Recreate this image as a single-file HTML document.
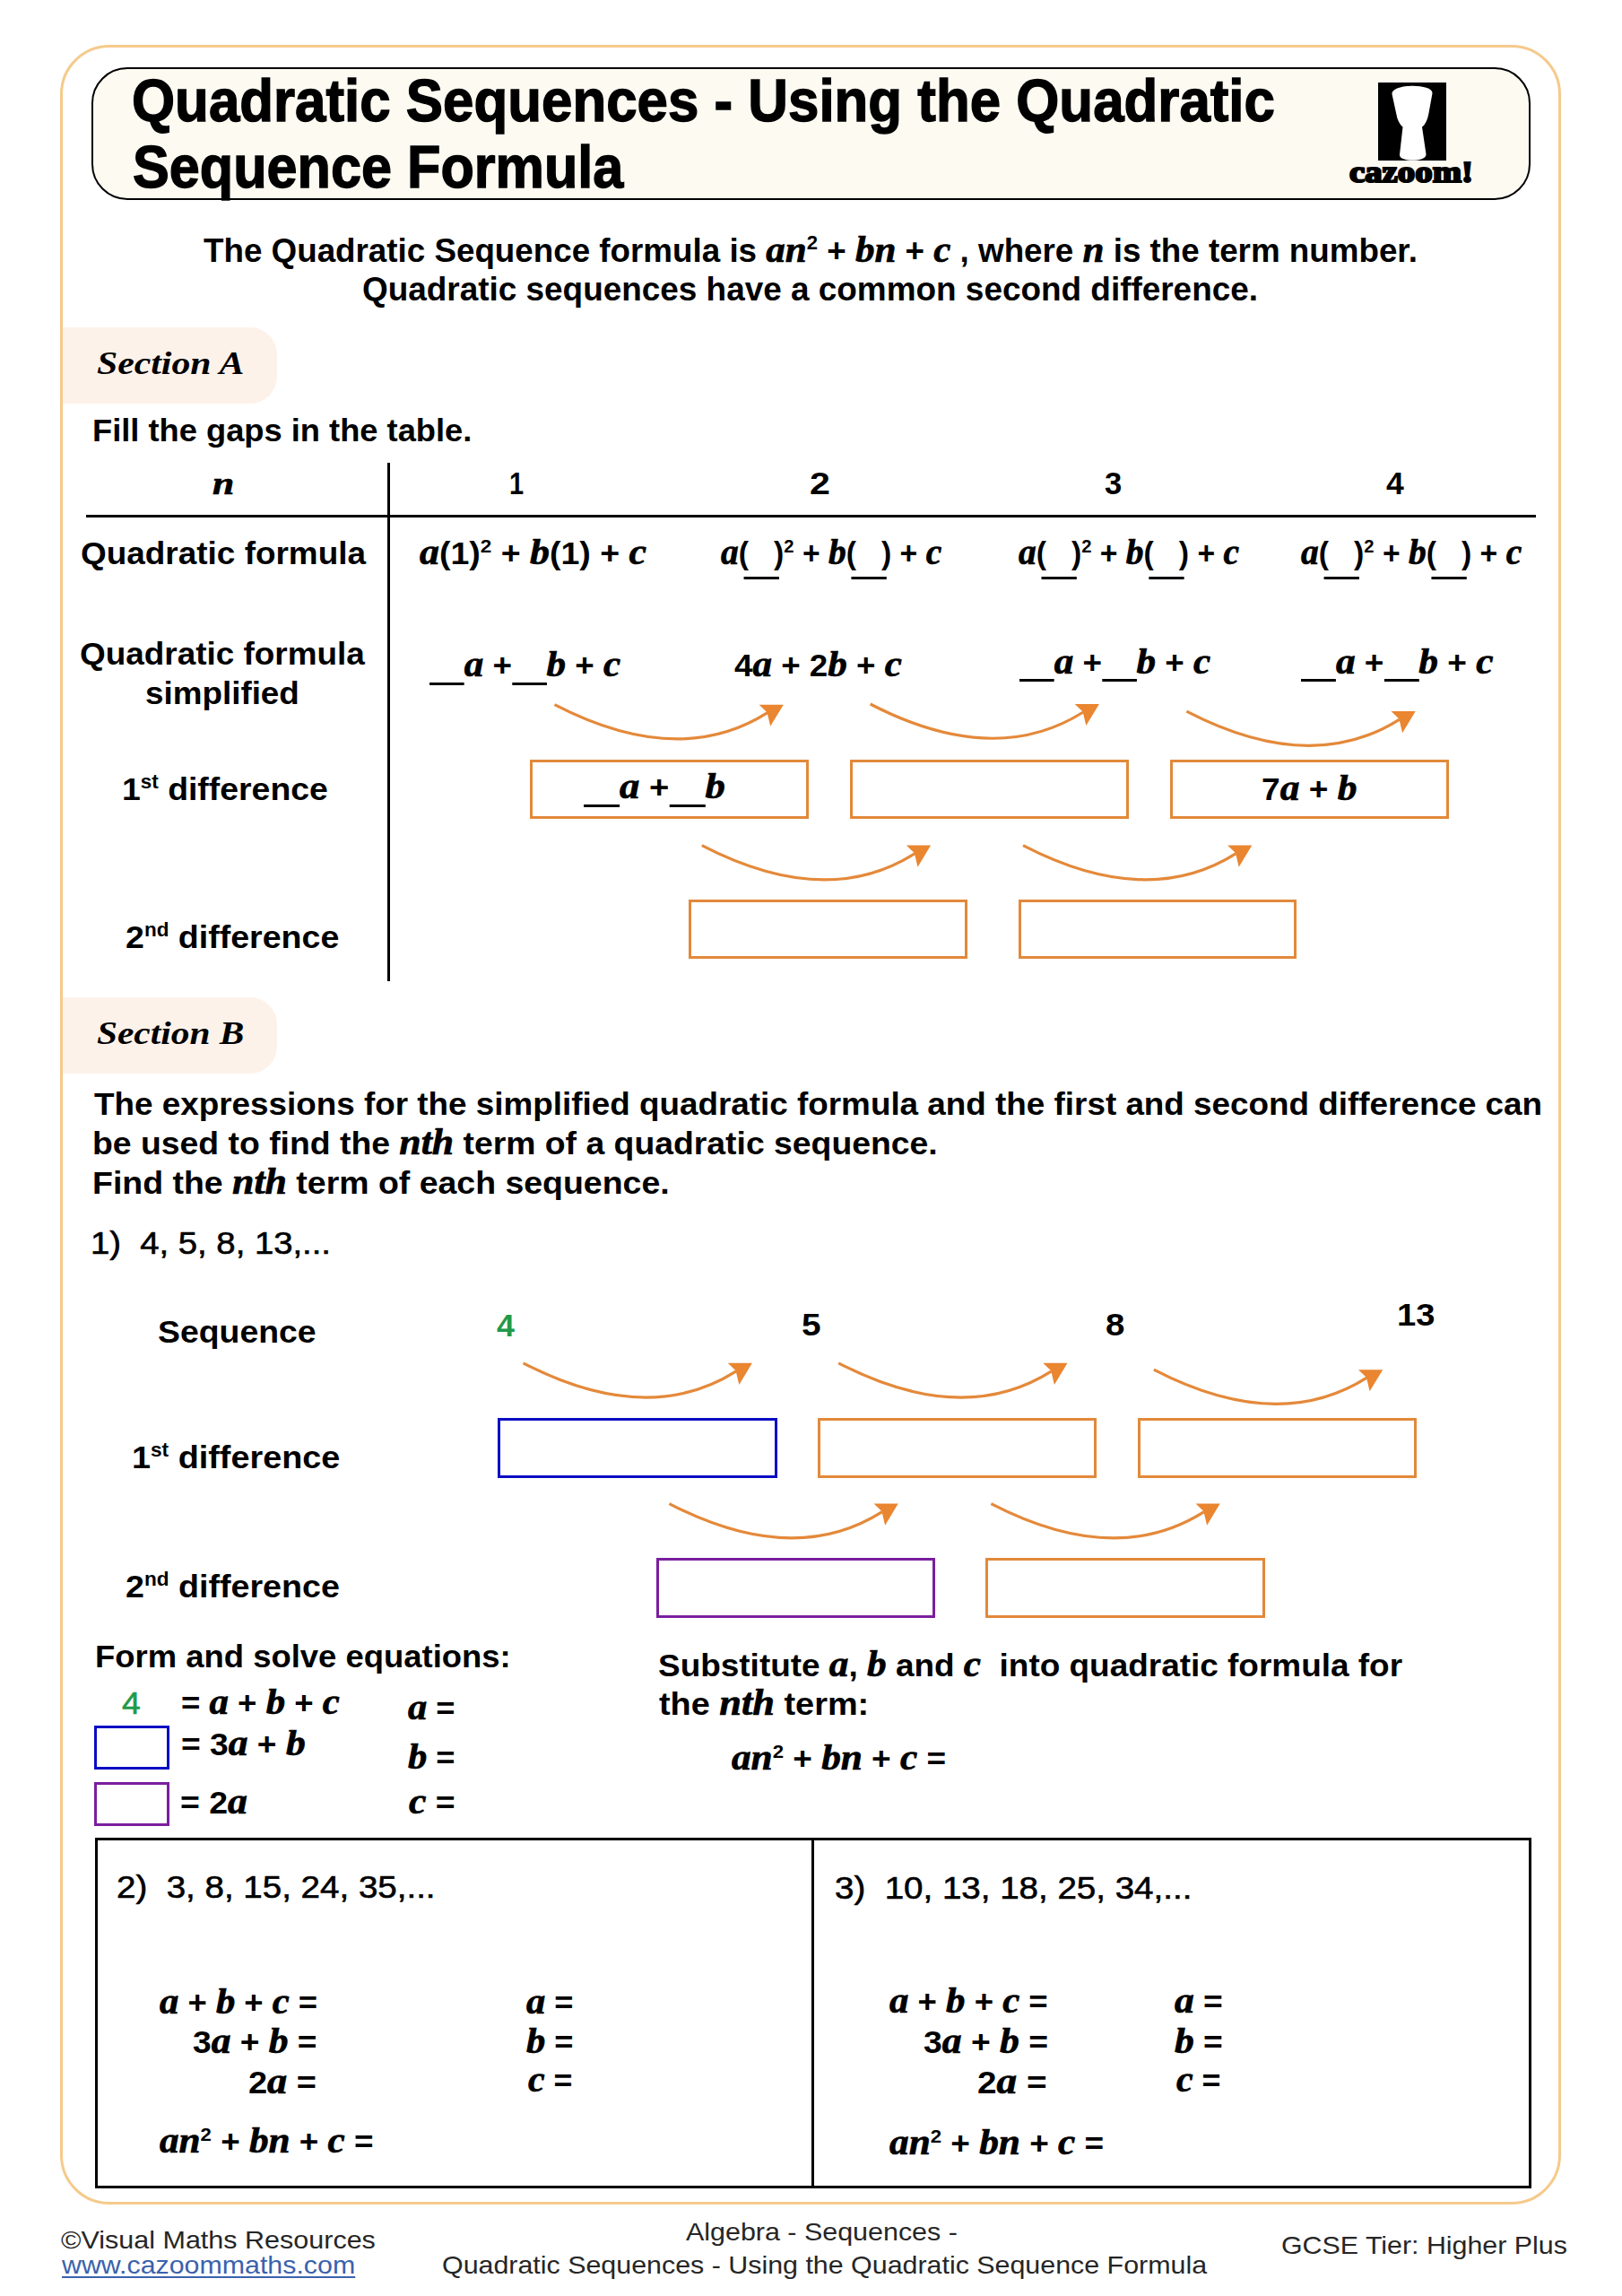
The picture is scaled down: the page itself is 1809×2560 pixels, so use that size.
<!DOCTYPE html>
<html><head><meta charset="utf-8"><title>Quadratic Sequences</title><style>
html,body{margin:0;padding:0;background:#fff;}
body{width:1809px;height:2560px;position:relative;overflow:hidden;}
.bx{position:absolute;box-sizing:border-box;}
.tx{position:absolute;white-space:nowrap;transform-origin:0 0;color:#000;}
.sb{font-family:"Liberation Sans",sans-serif;font-weight:bold;}
.ttl{-webkit-text-stroke:1.4px #000;}
.sr{font-family:"Liberation Sans",sans-serif;font-weight:normal;-webkit-text-stroke:0.6px currentColor;}
.ft{font-family:"Liberation Sans",sans-serif;font-weight:normal;color:#262626;}
.sec{font-family:"Liberation Serif",serif;font-weight:bold;font-style:italic;}
.logo{font-family:"Liberation Serif",serif;font-weight:bold;-webkit-text-stroke:2.2px #000;}
.m{font-family:"Liberation Serif",serif;font-weight:bold;font-style:italic;font-size:1.17em;line-height:0;-webkit-text-stroke:0.7px currentColor;}
.sup{font-size:0.6em;vertical-align:0.62em;line-height:0;font-weight:bold;}
.bl{position:relative;}
.bl::after{content:'';position:absolute;left:0.17em;right:0.15em;bottom:-10px;border-bottom:3px solid #000;}
.ub{display:inline-block;width:1.05em;height:0;border-bottom:3px solid #000;vertical-align:-0.29em;color:transparent;line-height:0;overflow:hidden}
.lnk{color:#3a62ad;text-decoration:underline;text-decoration-thickness:2px;text-underline-offset:3px;}
.arr{position:absolute;left:0;top:0;}
.arr path{fill:none;stroke:#e4893a;stroke-width:3.2;}
.arr polygon{fill:#ea8530;}
</style></head>
<body>
<div class="bx" style="left:67px;top:50px;width:1674px;height:2408px;border:3px solid #f5ca8c;border-radius:55px"></div><div class="bx" style="left:102px;top:75px;width:1605px;height:148px;border:2.5px solid #000;border-radius:40px;background:#fdfaf2"></div><div class="bx" style="left:70px;top:365px;width:239px;height:85px;background:#fdf2ea;border-radius:0 30px 30px 0"></div><div class="bx" style="left:70px;top:1112px;width:239px;height:85px;background:#fdf2ea;border-radius:0 30px 30px 0"></div><div class="bx" style="left:96px;top:573.5px;width:1617px;height:3px;background:#000"></div><div class="bx" style="left:432px;top:516px;width:3px;height:578px;background:#000"></div><div class="bx" style="left:591px;top:847px;width:311px;height:66px;border:3px solid #e2893a"></div><div class="bx" style="left:948px;top:847px;width:311px;height:66px;border:3px solid #e2893a"></div><div class="bx" style="left:1305px;top:847px;width:311px;height:66px;border:3px solid #e2893a"></div><div class="bx" style="left:768px;top:1003px;width:311px;height:66px;border:3px solid #e2893a"></div><div class="bx" style="left:1136px;top:1003px;width:310px;height:66px;border:3px solid #e2893a"></div><div class="bx" style="left:555px;top:1581px;width:312px;height:67px;border:3px solid #0c0cc4"></div><div class="bx" style="left:912px;top:1581px;width:311px;height:67px;border:3px solid #e2893a"></div><div class="bx" style="left:1269px;top:1581px;width:311px;height:67px;border:3px solid #e2893a"></div><div class="bx" style="left:732px;top:1737px;width:311px;height:67px;border:3px solid #7a1f9e"></div><div class="bx" style="left:1099px;top:1737px;width:312px;height:67px;border:3px solid #e2893a"></div><div class="bx" style="left:105px;top:1924px;width:84px;height:49px;border:3px solid #0c0cc4"></div><div class="bx" style="left:105px;top:1987px;width:84px;height:49px;border:3px solid #7a1f9e"></div><div class="bx" style="left:106px;top:2049px;width:1602px;height:391px;border:3px solid #000"></div><div class="bx" style="left:904.5px;top:2049px;width:3px;height:391px;background:#000"></div>
<svg class="arr" width="1809" height="2560" viewBox="0 0 1809 2560"><path d="M618.5,785.7 Q757.0,857.4 856.0,794.7" /><polygon points="873.8,785.7 846.6,785.7 855.5,794.2 859.2,809.8" /><path d="M970.6,785.0 Q1109.1,856.7 1208.1,794.0" /><polygon points="1225.9,785.0 1198.7,785.0 1207.6,793.5 1211.3,809.1" /><path d="M1323.4,793.1 Q1461.9,864.8 1560.9,802.1" /><polygon points="1578.7,793.1 1551.5,793.1 1560.4,801.6 1564.1,817.2" /><path d="M782.8,942.6 Q921.3,1014.3 1020.3,951.6" /><polygon points="1038.1,942.6 1010.9,942.6 1019.8,951.1 1023.5,966.7" /><path d="M1141.0,942.6 Q1279.5,1014.3 1378.5,951.6" /><polygon points="1396.3,942.6 1369.1,942.6 1378.0,951.1 1381.7,966.7" /><path d="M583.6,1519.8 Q722.1,1591.5 821.1,1528.8" /><polygon points="838.9,1519.8 811.7,1519.8 820.6,1528.3 824.3,1543.9" /><path d="M935.2,1519.8 Q1073.7,1591.5 1172.7,1528.8" /><polygon points="1190.5,1519.8 1163.3,1519.8 1172.2,1528.3 1175.9,1543.9" /><path d="M1286.9,1527.2 Q1425.4,1598.9 1524.4,1536.2" /><polygon points="1542.2,1527.2 1515.0,1527.2 1523.9,1535.7 1527.6,1551.3" /><path d="M746.4,1676.6 Q884.9,1748.3 983.9,1685.6" /><polygon points="1001.7,1676.6 974.5,1676.6 983.4,1685.1 987.1,1700.7" /><path d="M1105.4,1676.6 Q1243.9,1748.3 1342.9,1685.6" /><polygon points="1360.7,1676.6 1333.5,1676.6 1342.4,1685.1 1346.1,1700.7" /></svg>
<svg class="drum" style="position:absolute;left:1537px;top:92px" width="76" height="87" viewBox="0 0 76 87"><rect x="0" y="0" width="76" height="87" fill="#000"/><path d="M15.5,13 C15,1 61,1 60.5,12 L56.5,34 C55,42 52.5,47 49,49.5 L53.5,80 C54,89 23.5,89 24,80.5 L27.5,49.5 C24.5,47 21.5,42 20.5,36 Z" fill="#fff"/></svg>
<div id="t1" class="tx sb ttl" style="left:147.19px;top:79.40px;font-size:66px;line-height:66px;transform:scaleX(0.9370);">Quadratic Sequences - Using the Quadratic</div>
<div id="t2" class="tx sb ttl" style="left:148.14px;top:153.01px;font-size:66px;line-height:66px;transform:scaleX(0.9270);">Sequence Formula</div>
<div id="logo" class="tx logo" style="left:1505.48px;top:175.01px;font-size:33.5px;line-height:33.5px;transform:scaleX(1.1580);">cazoom!</div>
<div id="i1" class="tx sb" style="left:227.00px;top:261.81px;font-size:36.4px;line-height:36.4px;transform:scaleX(1.0104);">The Quadratic Sequence formula is <i class="m">an</i><span class="sup">2</span> + <i class="m">bn</i> + <i class="m">c</i> , where <i class="m">n</i> is the term number.</div>
<div id="i2" class="tx sb" style="left:403.98px;top:304.71px;font-size:36.4px;line-height:36.4px;transform:scaleX(1.0143);">Quadratic sequences have a common second difference.</div>
<div id="secA" class="tx sec" style="left:108.00px;top:387.22px;font-size:36px;line-height:36px;transform:scaleX(1.1590);">Section A</div>
<div id="fill" class="tx sb" style="left:103.48px;top:463.40px;font-size:35.4px;line-height:35.4px;transform:scaleX(1.0251);">Fill the gaps in the table.</div>
<div id="hn" class="tx sb" style="left:236.54px;top:525.21px;font-size:31px;line-height:31px;transform:scaleX(1.1983);"><i class="m">n</i></div>
<div id="h1" class="tx sb" style="left:567.69px;top:521.90px;font-size:35.4px;line-height:35.4px;transform:scaleX(0.8188);">1</div>
<div id="h2" class="tx sb" style="left:902.83px;top:521.90px;font-size:35.4px;line-height:35.4px;transform:scaleX(1.1616);">2</div>
<div id="h3" class="tx sb" style="left:1232.28px;top:521.90px;font-size:35.4px;line-height:35.4px;transform:scaleX(0.9766);">3</div>
<div id="h4" class="tx sb" style="left:1546.00px;top:521.90px;font-size:35.4px;line-height:35.4px;transform:scaleX(1.0025);">4</div>
<div id="qf" class="tx sb" style="left:90.23px;top:600.20px;font-size:35.4px;line-height:35.4px;transform:scaleX(1.0434);">Quadratic formula</div>
<div id="f1" class="tx sb" style="left:468.00px;top:600.41px;font-size:34.3px;line-height:34.3px;transform:scaleX(1.0933);"><i class="m">a</i>(1)<span class="sup">2</span> + <i class="m">b</i>(1) + <i class="m">c</i></div>
<div id="f2" class="tx sb" style="left:804.49px;top:600.41px;font-size:34.3px;line-height:34.3px;transform:scaleX(0.9828);"><i class="m">a</i><span class="bl">(&nbsp;&nbsp;&nbsp;)</span><span class="sup">2</span> + <i class="m">b</i><span class="bl">(&nbsp;&nbsp;&nbsp;)</span> + <i class="m">c</i></div>
<div id="f3" class="tx sb" style="left:1136.00px;top:600.41px;font-size:34.3px;line-height:34.3px;transform:scaleX(0.9820);"><i class="m">a</i><span class="bl">(&nbsp;&nbsp;&nbsp;)</span><span class="sup">2</span> + <i class="m">b</i><span class="bl">(&nbsp;&nbsp;&nbsp;)</span> + <i class="m">c</i></div>
<div id="f4" class="tx sb" style="left:1451.00px;top:600.41px;font-size:34.3px;line-height:34.3px;transform:scaleX(0.9828);"><i class="m">a</i><span class="bl">(&nbsp;&nbsp;&nbsp;)</span><span class="sup">2</span> + <i class="m">b</i><span class="bl">(&nbsp;&nbsp;&nbsp;)</span> + <i class="m">c</i></div>
<div id="qfs1" class="tx sb" style="left:88.97px;top:712.20px;font-size:35.4px;line-height:35.4px;transform:scaleX(1.0427);">Quadratic formula</div>
<div id="qfs2" class="tx sb" style="left:161.96px;top:756.01px;font-size:35.4px;line-height:35.4px;transform:scaleX(1.0402);">simplified</div>
<div id="s1" class="tx sb" style="left:479.00px;top:725.32px;font-size:34.3px;line-height:34.3px;transform:scaleX(1.0732);"><span class="ub">__</span><i class="m">a</i> +<span class="ub">__</span><i class="m">b</i> + <i class="m">c</i></div>
<div id="s2" class="tx sb" style="left:818.60px;top:725.32px;font-size:34.3px;line-height:34.3px;transform:scaleX(1.0716);">4<i class="m">a</i> + 2<i class="m">b</i> + <i class="m">c</i></div>
<div id="s3" class="tx sb" style="left:1137.00px;top:721.51px;font-size:34.3px;line-height:34.3px;transform:scaleX(1.0732);"><span class="ub">__</span><i class="m">a</i> +<span class="ub">__</span><i class="m">b</i> + <i class="m">c</i></div>
<div id="s4" class="tx sb" style="left:1451.00px;top:721.51px;font-size:34.3px;line-height:34.3px;transform:scaleX(1.0801);"><span class="ub">__</span><i class="m">a</i> +<span class="ub">__</span><i class="m">b</i> + <i class="m">c</i></div>
<div id="d1" class="tx sb" style="left:135.89px;top:862.60px;font-size:35.4px;line-height:35.4px;transform:scaleX(1.0563);">1<span class="sup">st</span> difference</div>
<div id="d1b" class="tx sb" style="left:651.00px;top:861.01px;font-size:34.3px;line-height:34.3px;transform:scaleX(1.1132);"><span class="ub">__</span><i class="m">a</i> +<span class="ub">__</span><i class="m">b</i></div>
<div id="d1c" class="tx sb" style="left:1407.49px;top:862.82px;font-size:34.3px;line-height:34.3px;transform:scaleX(1.0818);">7<i class="m">a</i> + <i class="m">b</i></div>
<div id="d2" class="tx sb" style="left:140.48px;top:1027.81px;font-size:35.4px;line-height:35.4px;transform:scaleX(1.0608);">2<span class="sup">nd</span> difference</div>
<div id="secB" class="tx sec" style="left:107.57px;top:1134.00px;font-size:36px;line-height:36px;transform:scaleX(1.1493);">Section B</div>
<div id="b1" class="tx sb" style="left:105.26px;top:1214.31px;font-size:35.4px;line-height:35.4px;transform:scaleX(1.0409);">The expressions for the simplified quadratic formula and the first and second difference can</div>
<div id="b2" class="tx sb" style="left:103.12px;top:1258.01px;font-size:35.4px;line-height:35.4px;transform:scaleX(1.0553);">be used to find the <i class="m">nth</i> term of a quadratic sequence.</div>
<div id="b3" class="tx sb" style="left:103.11px;top:1301.60px;font-size:35.4px;line-height:35.4px;transform:scaleX(1.0582);">Find the <i class="m">nth</i> term of each sequence.</div>
<div id="q1" class="tx sr" style="left:100.81px;top:1368.50px;font-size:35.5px;line-height:35.5px;transform:scaleX(1.0778);">1)&nbsp; 4, 5, 8, 13,...</div>
<div id="seq" class="tx sb" style="left:175.51px;top:1467.61px;font-size:35.4px;line-height:35.4px;transform:scaleX(1.0567);">Sequence</div>
<div id="n4" class="tx sb" style="left:554.00px;top:1461.21px;font-size:34.3px;line-height:34.3px;transform:scaleX(1.0454);color:#1f9a4a;">4</div>
<div id="n5" class="tx sb" style="left:893.50px;top:1460.21px;font-size:34.3px;line-height:34.3px;transform:scaleX(1.1306);">5</div>
<div id="n8" class="tx sb" style="left:1232.88px;top:1460.21px;font-size:34.3px;line-height:34.3px;transform:scaleX(1.1204);">8</div>
<div id="n13" class="tx sb" style="left:1557.78px;top:1448.82px;font-size:34.3px;line-height:34.3px;transform:scaleX(1.1113);">13</div>
<div id="bd1" class="tx sb" style="left:147.15px;top:1608.01px;font-size:35.4px;line-height:35.4px;transform:scaleX(1.0675);">1<span class="sup">st</span> difference</div>
<div id="bd2" class="tx sb" style="left:139.79px;top:1752.20px;font-size:35.4px;line-height:35.4px;transform:scaleX(1.0634);">2<span class="sup">nd</span> difference</div>
<div id="fs" class="tx sb" style="left:106.47px;top:1829.81px;font-size:35.4px;line-height:35.4px;transform:scaleX(1.0297);">Form and solve equations:</div>
<div id="g4" class="tx sr" style="left:136.00px;top:1881.60px;font-size:35.5px;line-height:35.5px;transform:scaleX(1.0494);color:#1f9a4a;">4</div>
<div id="e1" class="tx sb" style="left:201.54px;top:1881.60px;font-size:34.3px;line-height:34.3px;transform:scaleX(1.0670);">= <i class="m">a</i> + <i class="m">b</i> + <i class="m">c</i></div>
<div id="e2" class="tx sb" style="left:201.50px;top:1927.91px;font-size:34.3px;line-height:34.3px;transform:scaleX(1.0845);">= 3<i class="m">a</i> + <i class="m">b</i></div>
<div id="e3" class="tx sb" style="left:201.49px;top:1992.60px;font-size:34.3px;line-height:34.3px;transform:scaleX(1.0917);">= 2<i class="m">a</i></div>
<div id="ea" class="tx sb" style="left:454.75px;top:1888.01px;font-size:34.3px;line-height:34.3px;transform:scaleX(1.0597);"><i class="m">a</i> =</div>
<div id="eb" class="tx sb" style="left:454.75px;top:1942.71px;font-size:34.3px;line-height:34.3px;transform:scaleX(1.0597);"><i class="m">b</i> =</div>
<div id="ec" class="tx sb" style="left:456.00px;top:1992.60px;font-size:34.3px;line-height:34.3px;transform:scaleX(1.0918);"><i class="m">c</i> =</div>
<div id="sub1" class="tx sb" style="left:733.77px;top:1839.81px;font-size:35.4px;line-height:35.4px;transform:scaleX(1.0438);">Substitute <i class="m">a</i>, <i class="m">b</i> and <i class="m">c</i>&nbsp; into quadratic formula for</div>
<div id="sub2" class="tx sb" style="left:734.73px;top:1882.60px;font-size:35.4px;line-height:35.4px;transform:scaleX(1.0702);">the <i class="m">nth</i> term:</div>
<div id="sub3" class="tx sb" style="left:816.47px;top:1943.60px;font-size:34.3px;line-height:34.3px;transform:scaleX(1.0777);"><i class="m">an</i><span class="sup">2</span> + <i class="m">bn</i> + <i class="m">c</i> =</div>
<div id="q2" class="tx sr" style="left:129.77px;top:2086.82px;font-size:35.5px;line-height:35.5px;transform:scaleX(1.0854);">2)&nbsp; 3, 8, 15, 24, 35,...</div>
<div id="p2a" class="tx sb" style="left:178.00px;top:2215.60px;font-size:34.3px;line-height:34.3px;transform:scaleX(1.0631);"><i class="m">a</i> + <i class="m">b</i> + <i class="m">c</i> =</div>
<div id="p2b" class="tx sb" style="left:214.59px;top:2260.01px;font-size:34.3px;line-height:34.3px;transform:scaleX(1.0837);">3<i class="m">a</i> + <i class="m">b</i> =</div>
<div id="p2c" class="tx sb" style="left:276.90px;top:2305.01px;font-size:34.3px;line-height:34.3px;transform:scaleX(1.1067);">2<i class="m">a</i> =</div>
<div id="p2d" class="tx sb" style="left:587.17px;top:2215.60px;font-size:34.3px;line-height:34.3px;transform:scaleX(1.0597);"><i class="m">a</i> =</div>
<div id="p2e" class="tx sb" style="left:587.17px;top:2260.01px;font-size:34.3px;line-height:34.3px;transform:scaleX(1.0597);"><i class="m">b</i> =</div>
<div id="p2f" class="tx sb" style="left:589.00px;top:2302.51px;font-size:34.3px;line-height:34.3px;transform:scaleX(1.0439);"><i class="m">c</i> =</div>
<div id="p2g" class="tx sb" style="left:178.00px;top:2371.01px;font-size:34.3px;line-height:34.3px;transform:scaleX(1.0756);"><i class="m">an</i><span class="sup">2</span> + <i class="m">bn</i> + <i class="m">c</i> =</div>
<div id="q3" class="tx sr" style="left:931.21px;top:2087.82px;font-size:35.5px;line-height:35.5px;transform:scaleX(1.0852);">3)&nbsp; 10, 13, 18, 25, 34,...</div>
<div id="p3a" class="tx sb" style="left:992.12px;top:2215.32px;font-size:34.3px;line-height:34.3px;transform:scaleX(1.0665);"><i class="m">a</i> + <i class="m">b</i> + <i class="m">c</i> =</div>
<div id="p3b" class="tx sb" style="left:1029.59px;top:2260.01px;font-size:34.3px;line-height:34.3px;transform:scaleX(1.0869);">3<i class="m">a</i> + <i class="m">b</i> =</div>
<div id="p3c" class="tx sb" style="left:1090.16px;top:2305.01px;font-size:34.3px;line-height:34.3px;transform:scaleX(1.1280);">2<i class="m">a</i> =</div>
<div id="p3d" class="tx sb" style="left:1310.00px;top:2215.32px;font-size:34.3px;line-height:34.3px;transform:scaleX(1.0845);"><i class="m">a</i> =</div>
<div id="p3e" class="tx sb" style="left:1310.00px;top:2260.01px;font-size:34.3px;line-height:34.3px;transform:scaleX(1.0845);"><i class="m">b</i> =</div>
<div id="p3f" class="tx sb" style="left:1312.00px;top:2302.51px;font-size:34.3px;line-height:34.3px;transform:scaleX(1.0448);"><i class="m">c</i> =</div>
<div id="p3g" class="tx sb" style="left:992.12px;top:2372.71px;font-size:34.3px;line-height:34.3px;transform:scaleX(1.0782);"><i class="m">an</i><span class="sup">2</span> + <i class="m">bn</i> + <i class="m">c</i> =</div>
<div id="ft1" class="tx ft" style="left:68.47px;top:2483.31px;font-size:28.5px;line-height:28.5px;transform:scaleX(1.0704);">&copy;Visual Maths Resources</div>
<div id="ft2" class="tx ft" style="left:68.56px;top:2511.40px;font-size:28.5px;line-height:28.5px;transform:scaleX(1.0649);"><span class="lnk">www.cazoommaths.com</span></div>
<div id="ft3" class="tx ft" style="left:765.12px;top:2474.01px;font-size:28.5px;line-height:28.5px;transform:scaleX(1.0679);">Algebra - Sequences -</div>
<div id="ft4" class="tx ft" style="left:492.93px;top:2510.51px;font-size:28.5px;line-height:28.5px;transform:scaleX(1.0663);">Quadratic Sequences - Using the Quadratic Sequence Formula</div>
<div id="ft5" class="tx ft" style="left:1428.93px;top:2489.20px;font-size:28.5px;line-height:28.5px;transform:scaleX(1.0651);">GCSE Tier: Higher Plus</div>
</body></html>
